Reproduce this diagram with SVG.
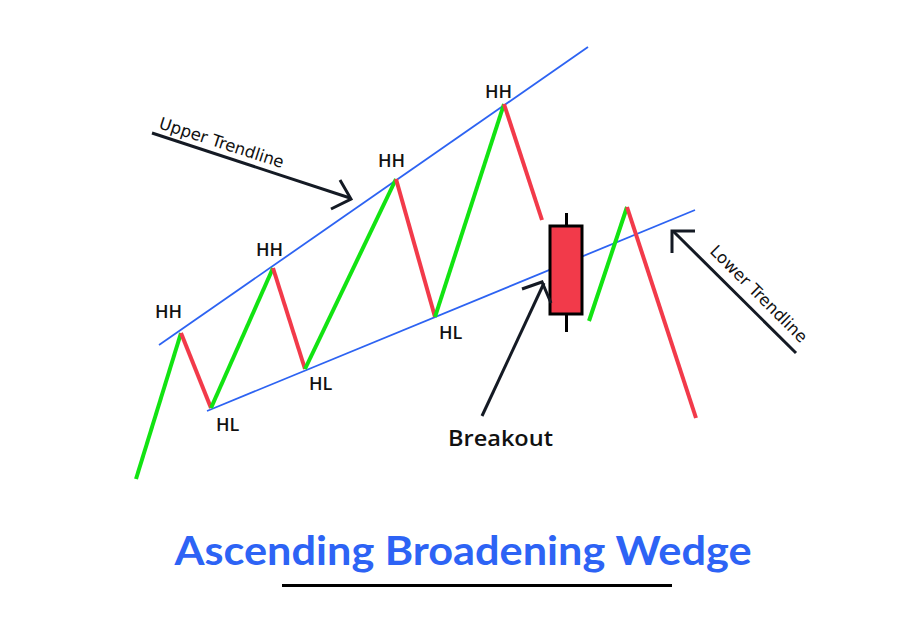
<svg xmlns="http://www.w3.org/2000/svg" width="907" height="641" viewBox="0 0 907 641">
<style>
.up{stroke:#12e312;stroke-width:4;fill:none;stroke-linecap:butt}
.dn{stroke:#f23a4a;stroke-width:4;fill:none}
.tl{stroke:#2d63f2;stroke-width:1.8;fill:none}
.ar{stroke:#141a24;stroke-width:3;fill:none}
.lb{font-family:"Open Sans",sans-serif;font-weight:600;font-size:18px;fill:#111}
.sm{font-family:"DejaVu Sans",sans-serif;font-size:16.5px;fill:#111}
</style>
<rect width="907" height="641" fill="#fff"/>
<g id="trendlines">
<line class="tl" x1="159" y1="345" x2="588" y2="47"/>
<line class="tl" x1="207" y1="411" x2="695" y2="210"/>
</g>
<g id="price">
<line class="up" x1="136" y1="479" x2="181" y2="333"/>
<line class="dn" x1="181" y1="333" x2="211" y2="408"/>
<line class="up" x1="211" y1="408" x2="273" y2="268"/>
<line class="dn" x1="273" y1="268" x2="305" y2="369"/>
<line class="up" x1="305" y1="369" x2="396" y2="179"/>
<line class="dn" x1="396" y1="179" x2="435" y2="317"/>
<line class="up" x1="435" y1="317" x2="504" y2="104"/>
<line class="dn" x1="504" y1="104" x2="542" y2="220"/>
<line class="up" x1="589" y1="321" x2="627" y2="207"/>
<line class="dn" x1="627" y1="207" x2="696" y2="418"/>
</g>
<g id="candle">
<line x1="566.5" y1="213" x2="566.5" y2="332" stroke="#000" stroke-width="3"/>
<rect x="550" y="226" width="32" height="88" fill="#f23a4a" stroke="#000" stroke-width="3"/>
</g>
<g id="labels">
<text class="lb" x="155" y="318">HH</text>
<text class="lb" x="256" y="256">HH</text>
<text class="lb" x="378" y="167">HH</text>
<text class="lb" x="485" y="98">HH</text>
<text class="lb" x="216" y="431">HL</text>
<text class="lb" x="309" y="390">HL</text>
<text class="lb" x="439" y="339">HL</text>
</g>
<g id="connectors">
<line class="ar" x1="152" y1="133" x2="350" y2="198"/>
<polyline class="ar" points="340,180 351,199 331,209"/>
<line class="ar" x1="796" y1="353" x2="673" y2="231"/>
<polyline class="ar" points="672,253 672,231 695,231"/>
<line class="ar" x1="482" y1="416" x2="544" y2="283"/>
<polyline class="ar" points="522,289 542,282 551,303"/>
</g>
<g id="annotations">
<text class="sm" transform="translate(158,128) rotate(18)">Upper Trendline</text>
<text class="sm" transform="translate(709,252) rotate(45)">Lower Trendline</text>
<text font-family="Open Sans,sans-serif" font-size="21" font-weight="600" fill="#111" x="448" y="446" textLength="105" lengthAdjust="spacingAndGlyphs">Breakout</text>
</g>
<g id="title">
<text x="463" y="565" text-anchor="middle" font-family="Lato,sans-serif" font-weight="bold" font-size="40" fill="#2d63f5" textLength="577" lengthAdjust="spacingAndGlyphs">Ascending Broadening Wedge</text>
<line x1="282" y1="585.5" x2="672" y2="585.5" stroke="#000" stroke-width="3"/>
</g>
</svg>
